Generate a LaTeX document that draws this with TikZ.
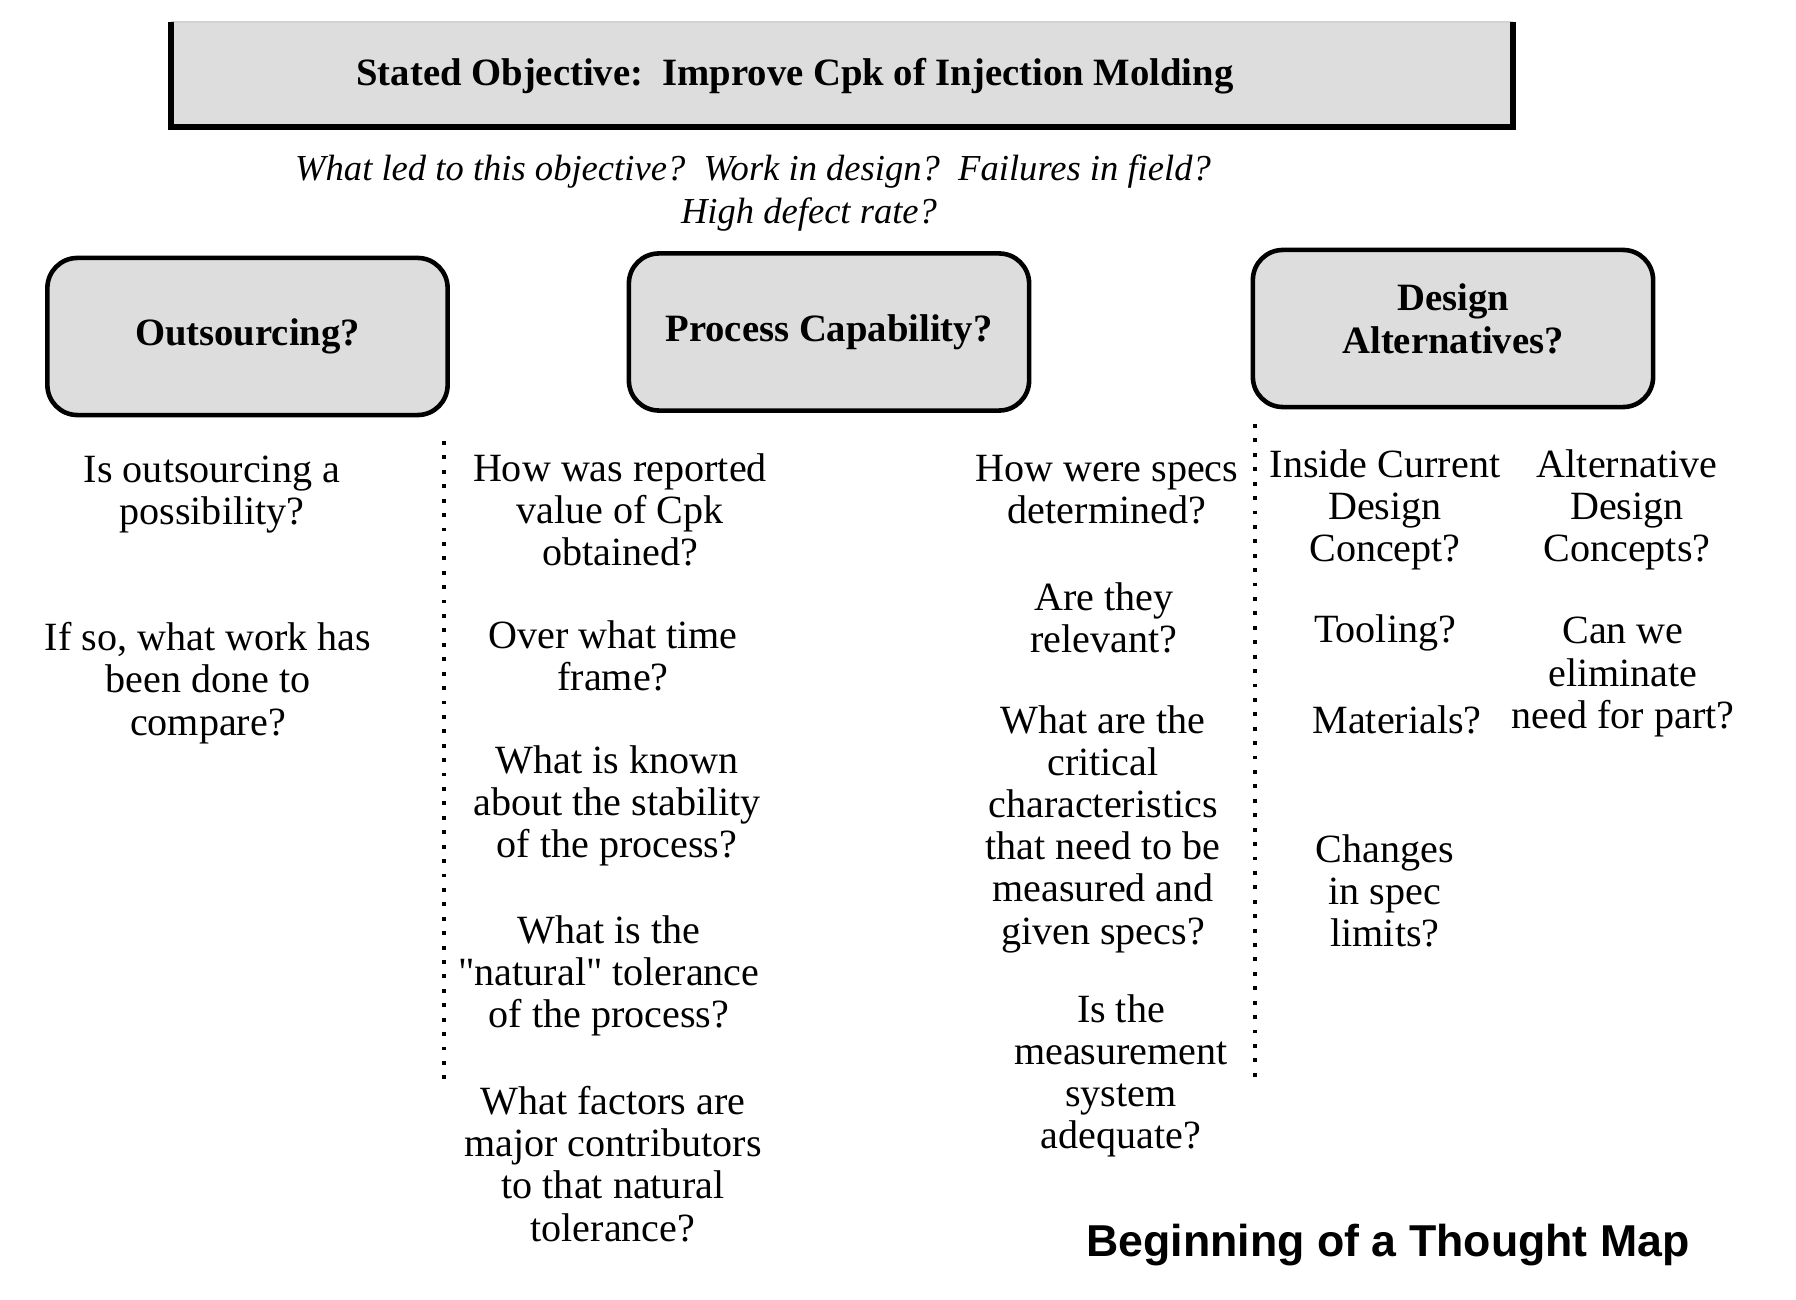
\documentclass[tikz,border=0pt]{standalone}
\usepackage{fontspec}
\setmainfont{Liberation Serif}[Ligatures=TeXOff]
\newfontfamily\capfont{Liberation Sans}

\begin{document}
\begin{tikzpicture}[x=0.01cm, y=-0.01cm,
  qbox/.style={draw, line width=1.3pt, rounded corners=0.3cm, fill=gray!27,
    minimum width=4cm, minimum height=1.57cm, align=center,
    font=\fontsize{11}{12.2}\selectfont\bfseries},
  question/.style={align=center, inner sep=0pt, font=\fontsize{11.4}{12}\selectfont},
  divider/.style={line width=1.1pt, dash pattern=on 1.1pt off 3pt}]
  \useasboundingbox (0,0) rectangle (1796,1300);

  % Objective box
  \node[fill=gray!27, minimum width=13.4cm, minimum height=1.03cm] (objective) at (842,74.5) {};
  \draw[gray!35, line width=0.6pt] (objective.north west) -- (objective.north east);
  \draw[line width=1.6pt] (objective.north west) -- (objective.south west)
    -- (objective.south east) -- (objective.north east);
  \node[font=\fontsize{11}{12}\selectfont\bfseries] (objtitle) at (795,76)
    {Stated Objective:\ \ Improve Cpk of Injection Molding};
  \node[font=\fontsize{10.4}{12}\selectfont\itshape] (whatled) at (753,172)
    {What led to this objective?\ \ Work in design?\ \ Failures in field?};
  \node[font=\fontsize{10.4}{12}\selectfont\itshape] (defect) at (809,215) {High defect rate?};

  % Branch boxes
  \node[qbox] (outsourcing) at (247.5,336.5) {Outsourcing?};
  \node[qbox] (capability) at (829,332) {Process Capability?};
  \node[qbox, text depth=5.6pt] (design) at (1453,328.5) {Design\\Alternatives?};

  % Dotted dividers
  \coordinate (ldivtop) at (444,441);
  \coordinate (ldivbot) at (444,1082);
  \coordinate (rdivtop) at (1255,424);
  \coordinate (rdivbot) at (1255,1077);
  \draw[divider] (ldivtop) -- (ldivbot);
  \draw[divider] (rdivtop) -- (rdivbot);

  % Outsourcing questions
  \node[question] (possible) at (212,494.5) {Is outsourcing a\\possibility?};
  \node[question] (compare) at (208,683) {If so, what work has\\been done to\\compare?};

  % Process capability questions
  \node[question] (reported) at (620,510) {How was reported\\value of Cpk\\obtained?};
  \node[question] (timeframe) at (613,656) {Over what time\\frame?};
  \node[question] (stability) at (617,806) {What is known\\about the stability\\of the process?};
  \node[question] (natural) at (609,976) {What is the\\"natural" tolerance\\of the process?};
  \node[question] (factors) at (613,1164) {What factors are\\major contributors\\to that natural\\tolerance?};

  \node[question] (specs) at (1107,490) {How were specs\\determined?};
  \node[question] (relevant) at (1104,618) {Are they\\relevant?};
  \node[question] (critical) at (1103,829) {What are the\\critical\\characteristics\\that need to be\\measured and\\given specs?};
  \node[question] (msa) at (1121,1076) {Is the\\measurement\\system\\adequate?};

  % Design alternative questions
  \node[question] (inside) at (1385,510) {Inside Current\\Design\\Concept?};
  \node[question] (tooling) at (1385,633) {Tooling?};
  \node[question] (materials) at (1397,720) {Materials?};
  \node[question] (speclimits) at (1385,891) {Changes\\in spec\\limits?};
  \node[question] (alternative) at (1627,510) {Alternative\\Design\\Concepts?};
  \node[question] (eliminate) at (1623,677) {Can we\\eliminate\\need for part?};

  % Caption
  \node[font=\capfont\fontsize{12.7}{14}\selectfont\bfseries] (caption) at (1388,1245)
    {Beginning of a Thought Map};
\end{tikzpicture}
\end{document}
